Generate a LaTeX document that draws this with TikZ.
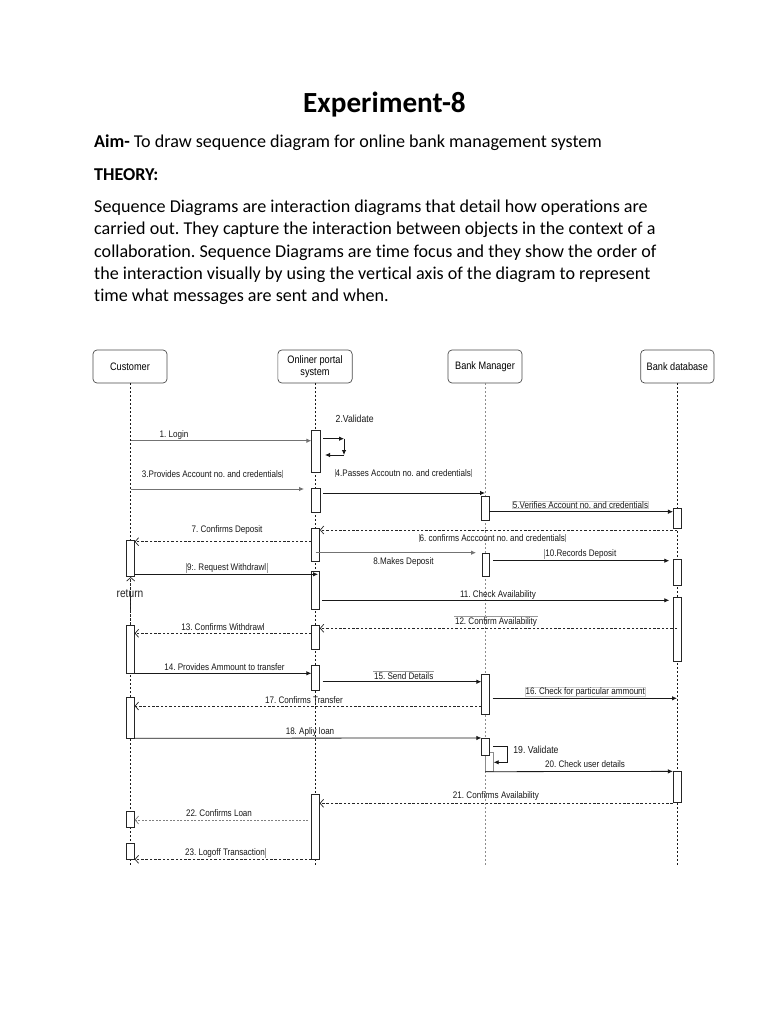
\documentclass[tikz,border=0pt]{standalone}
\usepackage{fontspec}
\setmainfont{Carlito}[Ligatures={NoCommon}]
\newfontfamily\dfont[FakeStretch=0.85]{Liberation Sans}
\usetikzlibrary{arrows.meta,fit}
\frenchspacing
\begin{document}
\begin{tikzpicture}[x=1pt,y=-1pt,
  head/.style={draw=black!70,line width=0.7pt,rounded corners=4pt,minimum width=74pt,minimum height=33pt,
    font=\dfont\fontsize{10.8}{12.5}\selectfont,align=center,inner sep=1pt},
  life/.style={black!90,dash pattern=on 2pt off 2pt,line width=0.8pt},
  lifeg/.style={black!45,dash pattern=on 2pt off 2pt,line width=0.8pt},
  actbox/.style={draw=black!85,fill=white,inner sep=0pt,line width=0.7pt},
  actg/.style={draw=black!45,fill=white,inner sep=0pt,line width=0.7pt},
  msg/.style={black!90,line width=0.8pt,-{Latex[length=5pt,width=4.5pt]}},
  msgg/.style={black!55,line width=0.8pt,-{Latex[length=5pt,width=4.5pt]}},
  ret/.style={black!85,dash pattern=on 2.5pt off 1.8pt,line width=0.7pt,-{Straight Barb[length=3.5pt,width=8pt]}},
  retg/.style={black!50,dash pattern=on 2pt off 1.5pt,line width=0.7pt,-{Straight Barb[length=3.5pt,width=8pt]}},
  lbl/.style={font=\dfont\fontsize{9.5}{11}\selectfont,inner sep=0.5pt,text=black!90},
  slbl/.style={font=\dfont\fontsize{10.2}{12}\selectfont,inner sep=0.5pt,text=black!90},
  tick/.style={black!40,line width=0.6pt},
  body/.style={font=\fontsize{18.1}{22}\selectfont,anchor=base west,inner sep=0pt}
]
\useasboundingbox[fill=white] (0,0) rectangle (768,1024);

% ---------- text ----------
\node[font=\fontsize{29.2}{34}\selectfont\bfseries,anchor=base,inner sep=0pt] (title) at (384.5,112.3) {Experiment-8};
\node[body] (aim) at (94,147.7) {\textbf{Aim-} To draw sequence diagram for online bank management system};
\node[body] (theory) at (94,180.7) {\textbf{THEORY:}};
\node[body] (t1) at (94,212.3) {Sequence Diagrams are interaction diagrams that detail how operations are};
\node[body] (t2) at (94,234.7) {carried out. They capture the interaction between objects in the context of a};
\node[body] (t3) at (94,257.1) {collaboration. Sequence Diagrams are time focus and they show the order of};
\node[body] (t4) at (94,279.5) {the interaction visually by using the vertical axis of the diagram to represent};
\node[body] (t5) at (94,301.9) {time what messages are sent and when.};

% ---------- heads ----------
\node[head] (cust) at (130,366.5) {Customer};
\node[head,minimum width=74.3pt] (port) at (315,366.5) {Onliner portal\\system};
\node[head] (mgr) at (485,366.5) {Bank Manager};
\node[head,minimum width=73.3pt] (db) at (677.3,366.5) {Bank database};

% ---------- lifelines ----------
\coordinate (custend) at (130.5,866);
\coordinate (portend) at (315.5,866);
\coordinate (mgrend) at (485,866);
\coordinate (dbend) at (677,866);
\draw[life] (cust.south -| custend) -- (custend);
\draw[life] (port.south -| portend) -- (portend);
\draw[lifeg] (mgr.south -| mgrend) -- (mgrend);
\draw[life] (db.south -| dbend) -- (dbend);

% ---------- activation bars ----------
\node[actbox,fit={(311.7,430.7) (320,472.3)}] (p1) {};
\node[actbox,fit={(311.7,488.3) (320,512)}] (p2) {};
\node[actbox,fit={(481.7,496) (489,520.7)}] (m1) {};
\node[actbox,fit={(673.3,508.3) (681.7,528.3)}] (d1) {};
\node[actbox,fit={(311.7,528) (319.5,561)}] (p3) {};
\node[actbox,fit={(126.7,540.7) (134.3,576.7)}] (c1) {};
\node[actbox,fit={(482,553.3) (489,576.7)}] (m2) {};
\node[actbox,fit={(673.3,559) (681.7,585)}] (d2) {};
\node[actbox,fit={(311.7,571) (319.5,609)}] (p4) {};
\node[actbox,fit={(673.3,597.3) (681.7,661.7)}] (d3) {};
\node[actbox,fit={(311.7,625.5) (319.5,649)}] (p5) {};
\node[actbox,fit={(126.7,625) (134.3,673.3)}] (c2) {};
\node[actbox,fit={(311.7,665) (319.3,690)}] (p6) {};
\node[actbox,fit={(481.7,674) (489.3,714.3)}] (m3) {};
\node[actbox,fit={(126.7,697.7) (134.3,738.3)}] (c3) {};
\node[actg,fit={(485.5,752) (493.3,771.7)}] (m5) {};
\node[actbox,fit={(481.7,738.3) (489.3,755)}] (m4) {};
\node[actbox,fit={(673.3,771.7) (681.7,802.7)}] (d4) {};
\node[actbox,fit={(311.7,794.3) (319.3,859.3)}] (p7) {};
\node[actbox,fit={(126.7,811.7) (134.3,827.3)}] (c4) {};
\node[actbox,fit={(126.7,843.3) (134.3,859.3)}] (c5) {};

% ---------- messages ----------
% 1
\draw[msgg] (custend |- 0,440.7) -- (p1.west |- 0,440.7);
\node[lbl] (l1) at (174,435.3) {1. Login};
% 2 self
\coordinate (s2a) at (344,438.7);
\coordinate (s2b) at (344,455);
\draw[msg] (p1.east |- 0,438.7) ++(2.7,0) -- (s2a);
\draw[msg] (s2a) -- (s2b);
\draw[msg] (s2b) -- (325,455);
\node[slbl,anchor=west] (l2) at (335,419.3) {2.Validate};
% 3
\draw[msgg] (custend |- 0,489) -- (304,489);
\node[lbl] (l3) at (212,473.7) {3.Provides Account no. and credentials};
\draw[tick] (l3.north east) -- (l3.south east);
% 4
\draw[msg] (p2.east |- 0,493) ++(2.7,0) -- (mgrend |- 0,493);
\node[lbl] (l4) at (403.3,473) {4.Passes Accoutn no. and credentials};
\draw[tick] (l4.north west) -- (l4.south west);
\draw[tick] (l4.north east) -- (l4.south east);
% 5
\draw[msg] (m1.east |- 0,511.7) -- (d1.west |- 0,511.7);
\node[lbl,draw=black!20] (l5) at (580.5,504.7) {5.Verifies Account no. and credentials};
% 6
\draw[ret] (dbend |- 0,530) -- (p3.east |- 0,530);
\node[lbl] (l6) at (492.3,538.3) {6. confirms Acccount no. and credentials};
\draw[tick] (l6.north west) -- (l6.south west);
\draw[tick] (l6.north east) -- (l6.south east);
% 7
\draw[ret] (p3.west |- 0,541.7) -- (c1.east |- 0,541.7);
\node[lbl] (l7) at (227,530) {7. Confirms Deposit};
% 8
\draw[msgg] (portend |- 0,552.7) -- (476,552.7);
\node[lbl] (l8) at (403.5,562.3) {8.Makes Deposit};
% 10
\draw[msg] (493,560.7) -- (669.3,560.7);
\node[lbl] (l10) at (580.8,554.3) {10.Records Deposit};
\draw[tick] (l10.north west) -- (l10.south west);
% 9
\draw[msg] (c1.east |- 0,574.3) -- (318,574.3);
\node[lbl] (l9) at (226.7,567.7) {9:. Request Withdrawl};
\draw[tick] (l9.north west) -- (l9.south west);
\draw[tick] (l9.north east) -- (l9.south east);
% return
\draw[ret] (c2.north -| 130.7,0) -- (c1.south -| 130.7,0);
\node[font=\dfont\fontsize{12}{14}\selectfont,inner sep=0pt,text=black!85] (lr) at (130,593.3) {return};
% 11
\draw[msg] (322,600.3) -- (669.3,600.3);
\node[lbl] (l11) at (498,594.7) {11. Check Availability};
% 12
\draw[ret] (dbend |- 0,628.3) -- (p5.east |- 0,628.3);
\node[lbl] (l12) at (496,621.7) {12. Confirm Availability};
\draw[tick] (l12.north west) -- (l12.north east);
% 13
\draw[ret] (p5.west |- 0,633.3) -- (c2.east |- 0,633.3);
\node[lbl] (l13) at (223,626.7) {13. Confirms Withdrawl};
% 14
\draw[msg] (c2.east |- 0,673.3) -- (p6.west |- 0,673.3);
\node[lbl] (l14) at (224.5,667.3) {14. Provides Ammount to transfer};
% 15
\draw[msg] (322.7,681.7) -- (m3.west |- 0,681.7);
\node[lbl] (l15) at (403.7,675.7) {15. Send Details};
\draw[tick] (l15.north west) -- (l15.north east);
% 16
\draw[msg] (492.7,698.3) -- (dbend |- 0,698.3);
\node[lbl,draw=black!20] (l16) at (585.3,691.7) {16. Check for particular ammount};
% 17
\draw[ret] (m3.west |- 0,706) -- (c3.east |- 0,706);
\node[lbl] (l17) at (304,700) {17. Confirms Transfer};
% 18
\draw[msg] (c3.east |- 0,738.3) -- (m4.north west);
\node[lbl] (l18) at (310,731.7) {18. Apliy loan};
% 19 self
\coordinate (s19a) at (507.7,746);
\coordinate (s19b) at (507.7,762.3);
\draw[black!90,line width=0.8pt] (493.3,746) -- (s19a) -- (s19b);
\draw[msg] (s19b) -- (m5.east |- s19b);
\node[slbl,anchor=west] (l19) at (512.7,750) {19. Validate};
% 20
\draw[msg] (mgrend |- 0,771.7) -- (d4.north west);
\node[lbl] (l20) at (585,764) {20. Check user details};
% 21
\draw[ret] (d4.west |- 0,803.3) -- (p7.east |- 0,803.3);
\node[lbl] (l21) at (496,796) {21. Confirms Availability};
% 22
\draw[retg] (308,820) -- (c4.east |- 0,820);
\node[lbl] (l22) at (219,812.7) {22. Confirms Loan};
% 23
\draw[ret] (p7.west |- 0,859.3) -- (c5.east |- 0,859.3);
\node[lbl] (l23) at (225,853.3) {23. Logoff Transaction};
\draw[tick] (l23.north east) -- (l23.south east);
\end{tikzpicture}
\end{document}
